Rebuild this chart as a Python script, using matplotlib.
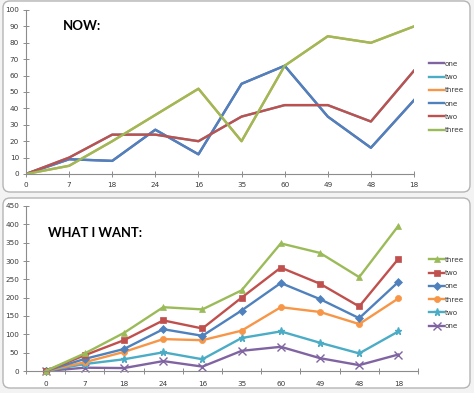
import numpy as np
import matplotlib
matplotlib.use("Agg")
import matplotlib.pyplot as plt
from matplotlib.patches import FancyBboxPatch
from matplotlib.transforms import IdentityTransform

# ---- data ----
categories = ['0', '7', '18', '24', '16', '35', '60', '49', '48', '18']
one = [0, 9, 8, 27, 12, 55, 66, 35, 16, 45]
two = [0, 10, 24, 24, 20, 35, 42, 42, 32, 63]
three = [0, 5, 20, 36, 52, 20, 66, 84, 80, 90]
series_names = ['one', 'two', 'three', 'one', 'two', 'three']
top_yticks = list(range(0, 101, 10))
bottom_yticks = list(range(0, 451, 50))

# ---- styles ----
colors = ['#8064A2', '#4BACC6', '#F79646', '#4F81BD', '#C0504D', '#9BBB59']
markers = ['x', '*', 'o', 'D', 's', '^']
W, H = 474, 393
plt.rcParams['font.family'] = ['DejaVu Sans']
small = 5.2

fig = plt.figure(figsize=(W / 100, H / 100), dpi=100)
fig.patch.set_facecolor('#f3f3f3')

def px_rect(l, t, r, b):
    return [l / W, (H - b) / H, (r - l) / W, (b - t) / H]

# panels
for (l, t, r, b) in [(3, 1, 470, 192), (3, 198, 470, 388)]:
    fig.patches.append(FancyBboxPatch((l, H - b), r - l, b - t,
                                      boxstyle="round,pad=0,rounding_size=7",
                                      transform=IdentityTransform(),
                                      facecolor='white', edgecolor='#b5b5b5',
                                      linewidth=1.0, zorder=-5))

data = [one, two, three, one, two, three]
axis_col = '#8c8c8c'
lab_col = '#3a3a3a'

def style_axes(ax):
    for s in ['top', 'right']:
        ax.spines[s].set_visible(False)
    for s in ['left', 'bottom']:
        ax.spines[s].set_color(axis_col)
        ax.spines[s].set_linewidth(0.8)
    ax.set_facecolor('none')
    ax.tick_params(axis='y', direction='inout', length=4, width=0.7,
                   color=axis_col, labelsize=small, labelcolor=lab_col, pad=3)

# ---- top chart ----
ax1 = fig.add_axes(px_rect(26, 10, 414, 174), zorder=2)
style_axes(ax1)
x = np.arange(len(categories))
for d, c, n in zip(data, colors, series_names):
    ax1.plot(x, d, color=c, lw=1.7, label=n, solid_joinstyle='round')
ax1.set_xlim(0, len(categories) - 1)
ax1.set_ylim(0, 100)
ax1.set_yticks(top_yticks)
ax1.set_xticks(x)
ax1.set_xticklabels(categories)
ax1.tick_params(axis='x', direction='inout', length=4, width=0.7,
                color=axis_col, labelsize=small, labelcolor=lab_col, pad=4)
fig.text(63 / W, 1 - 26 / H, 'NOW:', family=['Lato', 'DejaVu Sans'],
         fontsize=9.5, fontweight='bold', va='center', ha='left', color='black')
fig.legend(*ax1.get_legend_handles_labels(), loc='center left',
           bbox_to_anchor=(429 / W, 1 - 97 / H), frameon=False,
           fontsize=small, handlelength=2.1, handletextpad=0.1,
           labelspacing=1.0, borderpad=0, borderaxespad=0, labelcolor=lab_col)

# ---- bottom chart (stacked) ----
ax2 = fig.add_axes(px_rect(26, 206, 418, 371), zorder=2)
style_axes(ax2)
stacked = np.cumsum(np.array(data, dtype=float), axis=0)
handles = []
for d, c, m, n in zip(stacked, colors, markers, series_names):
    ms = 4.4 if m not in ('*', 'x') else 5.2
    if m == 'D':
        ms = 3.7
    h, = ax2.plot(x, d, color=c, lw=1.7, marker=m, ms=ms,
                  mew=1.0 if m in ('x', '*') else 0.5,
                  mec=c, mfc=c, label=n, clip_on=False)
    handles.append(h)
ax2.set_xlim(-0.5, len(categories) - 0.5)
ax2.set_ylim(0, 450)
ax2.set_yticks(bottom_yticks)
ax2.set_xticks(x)
ax2.set_xticklabels(categories)
ax2.set_xticks(np.arange(-0.5, len(categories), 1.0), minor=True)
ax2.tick_params(axis='x', which='major', length=0, labelsize=small,
                labelcolor=lab_col, pad=7)
ax2.tick_params(axis='x', which='minor', direction='inout', length=4,
                width=0.7, color=axis_col)
fig.text(48 / W, 1 - 233 / H, 'WHAT I WANT:', family=['Lato', 'DejaVu Sans'],
         fontsize=9.4, fontweight='bold', va='center', ha='left', color='black')
fig.legend(handles[::-1], series_names[::-1], loc='center left',
           bbox_to_anchor=(429 / W, 1 - 293 / H), frameon=False,
           fontsize=small, handlelength=2.1, handletextpad=0.1,
           labelspacing=1.0, borderpad=0, borderaxespad=0, labelcolor=lab_col)

fig.savefig('out.png', dpi=100, facecolor=fig.get_facecolor())
